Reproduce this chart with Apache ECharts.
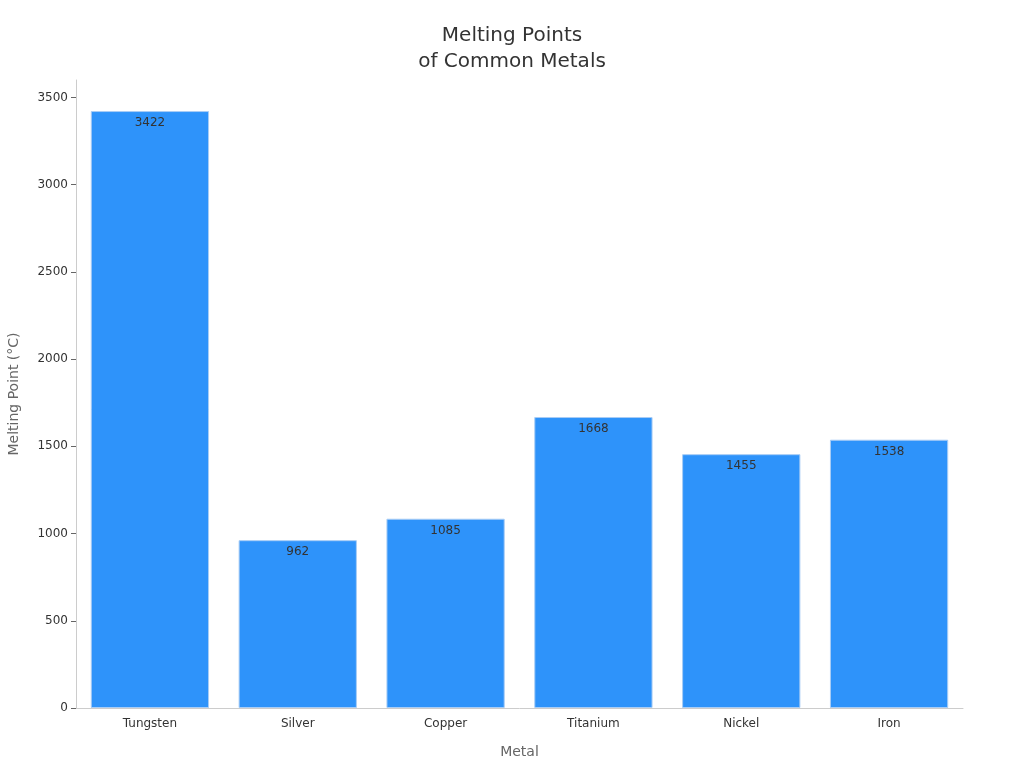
<!DOCTYPE html>
<html><head><meta charset="utf-8">
<script src="https://cdn.jsdelivr.net/npm/echarts@6/dist/echarts.min.js"></script>
<style>html,body{margin:0;padding:0;background:#fff}#c{width:1024px;height:768px}</style>
</head><body><div id="c"></div>
<script>
const categories = ['Tungsten','Silver','Copper','Titanium','Nickel','Iron'];
const meltingPoints = [3422, 962, 1085, 1668, 1455, 1538];
const yTicks = [0,500,1000,1500,2000,2500,3000,3500];

const chart = echarts.init(document.getElementById('c'));
chart.setOption({
  animation:false,
  textStyle:{fontFamily:'DejaVu Sans'},
  title:{text:'Melting Points\nof Common Metals',left:'center',top:18,
    textStyle:{fontSize:20,fontWeight:'normal',color:'#333',lineHeight:26,fontFamily:'DejaVu Sans'}},
  grid:{left:76,right:61,top:80,bottom:60,outerBoundsMode:'none',containLabel:false},
  xAxis:{type:'category',data:categories,
    name:'Metal',nameLocation:'middle',nameGap:37,
    nameTextStyle:{fontSize:14,color:'#666'},
    axisLine:{lineStyle:{color:'#ccc'}},
    axisTick:{alignWithLabel:true,lineStyle:{color:'#666'}},
    axisLabel:{fontSize:12,color:'#333',margin:10}},
  yAxis:{type:'value',min:0,max:3600,interval:500,
    name:'Melting Point (°C)',nameLocation:'middle',nameGap:55,
    nameTextStyle:{fontSize:14,color:'#666'},
    axisLine:{show:true,lineStyle:{color:'#ccc'}},
    axisTick:{show:true,lineStyle:{color:'#666'}},
    splitLine:{show:false},
    axisLabel:{fontSize:12,color:'#333',showMaxLabel:false,
      formatter:v=>yTicks.includes(v)?String(v):''}},
  series:[{type:'bar',data:meltingPoints,barCategoryGap:'20%',
    itemStyle:{color:'#2E93FA',borderColor:'#a9cdf5',borderWidth:1},
    label:{show:true,position:'insideTop',distance:6,fontSize:12,color:'#333'}}]
});
</script></body></html>
